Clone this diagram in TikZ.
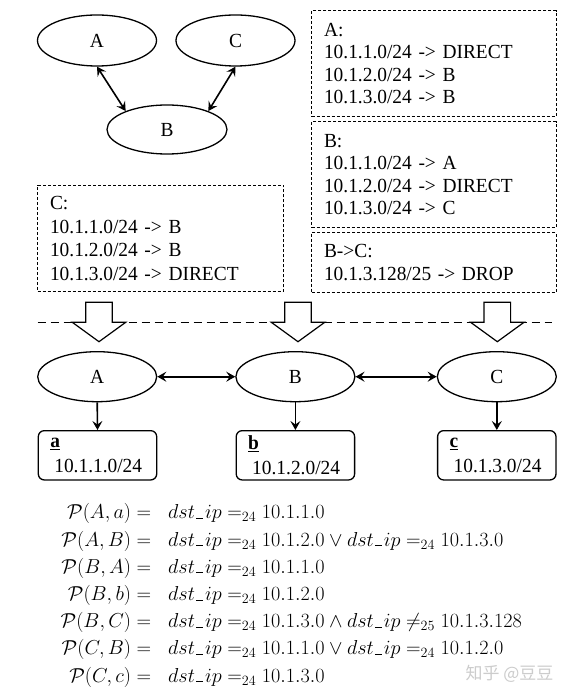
\RequirePackage{fix-cm}
\documentclass[tikz,border=0pt]{standalone}
\usepackage[no-math]{fontspec}
\newfontfamily\timesfont[FakeStretch=0.97]{Liberation Serif}
\newfontfamily\cjkfont{Noto Sans CJK SC}
\usetikzlibrary{shapes.geometric,arrows.meta}
\newcommand\dstip{dst\mkern1mu\vbox{\hrule width .36em height .8pt}\mkern1.5mu ip}

\begin{document}
\begin{tikzpicture}[x=1pt,y=-1pt,
  routernode/.style={draw, ellipse, line width=1.3pt, minimum width=119pt, minimum height=50pt, inner sep=0pt,
    font=\timesfont\fontsize{20}{22}\selectfont},
  tablebox/.style={draw, dashed, dash pattern=on 3pt off 2pt, line width=0.9pt, align=left, inner xsep=12.3pt, inner ysep=0pt,
    font=\timesfont\fontsize{20}{22.5}\selectfont},
  prefixbox/.style={draw, rounded corners=6pt, line width=1.3pt, minimum width=118.4pt, minimum height=49.3pt,
    text width=94.4pt, inner xsep=12pt, inner ysep=0pt, align=left,
    font=\timesfont\fontsize{20}{24.5}\selectfont},
  biarr/.style={line width=1.6pt, {Stealth[length=9pt,width=10pt,inset=3.5pt]}-{Stealth[length=9pt,width=10pt,inset=3.5pt]}},
  arr/.style={line width=1.6pt, -{Stealth[length=9pt,width=10pt,inset=3.5pt]}},
  eqtext/.style={inner sep=0pt, font=\fontsize{20.2}{21}\selectfont},
  hollow/.style={draw, fill=white, line width=1.2pt, line join=miter}
]
\fill[white] (0,0) rectangle (569,700);
\useasboundingbox (0,0) rectangle (569,700);

% ---------- top topology ----------
\node[routernode, minimum height=51pt] (tA) at (97,40.5) {A};
\node[routernode, minimum height=51pt] (tC) at (235.5,40.5) {C};
\node[routernode, minimum width=120pt, minimum height=49pt] (tB) at (167,129.5) {B};
\draw[biarr] (tA.south) -- (tB.156);
\draw[biarr] (tC.south) -- (tB.24);

% ---------- forwarding tables ----------
\node[tablebox, text width=219.7pt, minimum height=106pt] (fA) at (433.85,63.7)
  {A:\\10.1.1.0/24 -> DIRECT\\10.1.2.0/24 -> B\\10.1.3.0/24 -> B};
\node[tablebox, text width=219.7pt, minimum height=106pt] (fB) at (433.85,174.7)
  {B:\\10.1.1.0/24 -> A\\10.1.2.0/24 -> DIRECT\\10.1.3.0/24 -> C};
\node[tablebox, text width=219.7pt, minimum height=60pt] (fBC) at (433.85,262.3)
  {B->C:\\10.1.3.128/25 -> DROP};
\node[tablebox, text width=221pt, minimum height=106.7pt, font=\timesfont\fontsize{20}{23.5}\selectfont] (fC) at (160.5,238.4)
  {C:\\10.1.1.0/24 -> B\\10.1.2.0/24 -> B\\10.1.3.0/24 -> DIRECT};

% ---------- separator and hollow arrows ----------
\coordinate (sepL) at (37.7,322.3);
\coordinate (sepR) at (552.3,322.3);
\draw[line width=1.6pt, dash pattern=on 8pt off 5pt] (sepL) -- (sepR);
\foreach \cx in {99,298,497.3}{
  \draw[hollow] (\cx-13.3,302.3) -- (\cx+13.3,302.3) -- (\cx+13.3,322.3) -- (\cx+26.7,322.3)
    -- (\cx,341.7) -- (\cx-26.7,322.3) -- (\cx-13.3,322.3) -- cycle;
}

% ---------- data-plane graph ----------
\node[routernode] (A) at (97.2,376.7) {A};
\node[routernode] (B) at (295.4,376.7) {B};
\node[routernode] (C) at (496.8,376.7) {C};
\draw[biarr] (A.east) -- (B.west);
\draw[biarr] (B.east) -- (C.west);

\node[prefixbox] (a) at (97.5,455.3) {\underline{\textbf{a}}\\\hspace*{4pt}10.1.1.0/24};
\node[prefixbox] (b) at (295.4,455.3) {\underline{\textbf{b}}\\\hspace*{4pt}10.1.2.0/24};
\node[prefixbox] (c) at (496.8,455.3) {\underline{\textbf{c}}\\\hspace*{4pt}10.1.3.0/24};
\draw[arr] (A.south) -- (a.north);
\draw[arr] (B.south) -- (b.north);
\draw[arr] (C.south) -- (c.north);

% ---------- predicates ----------
\node[eqtext, anchor=mid east] (l1) at (151.5,516.7) {$\mathcal{P}(A,a) =$};
\node[eqtext, anchor=mid west] (r1) at (168,516.7) {$\dstip =_{24} 10.1.1.0$};
\node[eqtext, anchor=mid east] (l2) at (151.5,543.9) {$\mathcal{P}(A,B) =$};
\node[eqtext, anchor=mid west] (r2) at (168,543.9) {$\dstip =_{24} 10.1.2.0 \vee \dstip =_{24} 10.1.3.0$};
\node[eqtext, anchor=mid east] (l3) at (151.5,571.1) {$\mathcal{P}(B,A) =$};
\node[eqtext, anchor=mid west] (r3) at (168,571.1) {$\dstip =_{24} 10.1.1.0$};
\node[eqtext, anchor=mid east] (l4) at (151.5,598.3) {$\mathcal{P}(B,b) =$};
\node[eqtext, anchor=mid west] (r4) at (168,598.3) {$\dstip =_{24} 10.1.2.0$};
\node[eqtext, anchor=mid east] (l5) at (151.5,625.5) {$\mathcal{P}(B,C) =$};
\node[eqtext, anchor=mid west] (r5) at (168,625.5) {$\dstip =_{24} 10.1.3.0 \wedge \dstip \neq_{25} 10.1.3.128$};
\node[eqtext, anchor=mid east] (l6) at (151.5,652.7) {$\mathcal{P}(C,B) =$};
\node[eqtext, anchor=mid west] (r6) at (168,652.7) {$\dstip =_{24} 10.1.1.0 \vee \dstip =_{24} 10.1.2.0$};
\node[eqtext, anchor=mid east] (l7) at (151.5,679.9) {$\mathcal{P}(C,c) =$};
\node[eqtext, anchor=mid west] (r7) at (168,679.9) {$\dstip =_{24} 10.1.3.0$};

% ---------- watermark ----------
\node[inner sep=0pt, text=gray!40, font=\cjkfont\fontsize{17}{18}\selectfont] (wm) at (509.5,674.3) {知乎 @豆豆};
\end{tikzpicture}
\end{document}
